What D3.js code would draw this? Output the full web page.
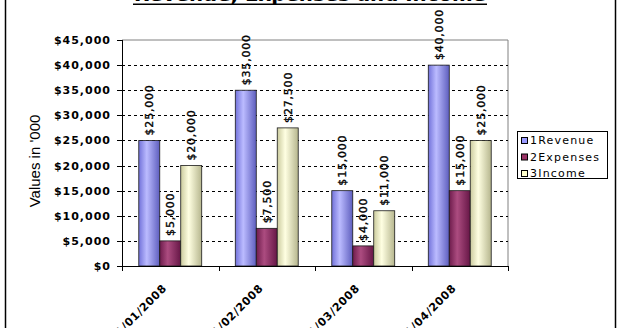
<!DOCTYPE html>
<html>
<head>
<meta charset="utf-8">
<script src="https://cdn.jsdelivr.net/npm/d3@7"></script>
<style>
  html, body { margin: 0; padding: 0; background: #fff; }
  svg { display: block; }
</style>
</head>
<body>
<svg id="chart" width="623" height="328"></svg>
<script>
// Monthly figures (values in '000)
const categories = ["01/01/2008", "01/02/2008", "01/03/2008", "01/04/2008"];
const seriesNames = ["1Revenue", "2Expenses", "3Income"];
const revenue = [25000, 35000, 15000, 40000];
const expenses = [5000, 7500, 4000, 15000];
const income = [20000, 27500, 11000, 25000];
const yTicks = [0, 5000, 10000, 15000, 20000, 25000, 30000, 35000, 40000, 45000];

const seriesValues = [revenue, expenses, income];
const seriesColors = ["#9999FF", "#993366", "#FFFFCC"];
// cylinder shading: edge, highlight, far edge
const seriesShades = [
  ["#7272DA", "#BBBBFF", "#5E5EBE"],
  ["#6E1C4C", "#AC4C80", "#661646"],
  ["#CBCB9E", "#FFFFE2", "#B6B68E"]
];

const svg = d3.select("#chart");
const W = 623, H = 328;
const plot = { left: 122, right: 508, top: 40, bottom: 266 };

// outer chart frame
svg.append("rect")
  .attr("x", 5.5).attr("y", -20)
  .attr("width", 610).attr("height", H + 40)
  .attr("fill", "#fff").attr("stroke", "#000").attr("stroke-width", 1.5);

// gradients
const defs = svg.append("defs");
seriesShades.forEach((s, i) => {
  const g = defs.append("linearGradient").attr("id", "grad" + i)
    .attr("x1", "0%").attr("x2", "100%").attr("y1", "0%").attr("y2", "0%");
  g.append("stop").attr("offset", "0%").attr("stop-color", s[0]);
  g.append("stop").attr("offset", "38%").attr("stop-color", s[1]);
  g.append("stop").attr("offset", "100%").attr("stop-color", s[2]);
});

// title
svg.append("text")
  .attr("x", 310).attr("y", 1)
  .attr("text-anchor", "middle")
  .attr("font-family", "DejaVu Sans, Verdana, sans-serif")
  .attr("font-weight", "bold")
  .attr("font-size", 17)
  .attr("textLength", 352)
  .attr("lengthAdjust", "spacingAndGlyphs")
  .text("Revenue, Expenses and Income");
svg.append("line")
  .attr("x1", 310 - 177).attr("x2", 310 + 177)
  .attr("y1", 4.2).attr("y2", 4.2)
  .attr("stroke", "#000").attr("stroke-width", 1.6);

// scales
const y = d3.scaleLinear().domain([0, 45000]).range([plot.bottom, plot.top]);
const x0 = d3.scaleBand().domain(categories).range([plot.left, plot.right]).padding(0);
const x1 = d3.scaleBand().domain(seriesNames).range([0, x0.bandwidth()])
  .paddingInner(0).paddingOuter(0.8);

// plot area border (top/right)
svg.append("path")
  .attr("d", `M${plot.left},${plot.top}H${plot.right}V${plot.bottom}`)
  .attr("fill", "none").attr("stroke", "#808080").attr("stroke-width", 1);

// gridlines
svg.append("g").selectAll("line")
  .data(yTicks.filter(v => v > 0 && v < 45000))
  .join("line")
  .attr("x1", plot.left).attr("x2", plot.right)
  .attr("y1", d => Math.round(y(d)) + 0.5).attr("y2", d => Math.round(y(d)) + 0.5)
  .attr("stroke", "#000").attr("stroke-width", 1)
  .attr("stroke-dasharray", "3,3");

// bars
const groups = svg.append("g").selectAll("g")
  .data(categories)
  .join("g")
  .attr("transform", d => `translate(${x0(d)},0)`);

groups.selectAll("rect")
  .data((c, ci) => seriesNames.map((s, si) => ({ s, si, v: seriesValues[si][ci] })))
  .join("rect")
  .attr("x", d => x1(d.s))
  .attr("y", d => y(d.v))
  .attr("width", x1.bandwidth())
  .attr("height", d => y(0) - y(d.v))
  .attr("fill", d => `url(#grad${d.si})`)
  .attr("stroke", "#1a1a1a").attr("stroke-width", 0.8);

// data labels (rotated)
const fmt = d3.format("$,");
groups.selectAll("text.val")
  .data((c, ci) => seriesNames.map((s, si) => ({ s, si, v: seriesValues[si][ci] })))
  .join("text")
  .attr("class", "val")
  .attr("transform", d => `translate(${x1(d.s) + x1.bandwidth() / 2 + 4},${y(d.v) - 5}) rotate(-90)`)
  .attr("font-family", "DejaVu Sans, Verdana, sans-serif")
  .attr("font-size", 11)
  .attr("letter-spacing", 0.8)
  .attr("fill", "#000")
  .attr("stroke", "#000").attr("stroke-width", 0.35)
  .text(d => fmt(d.v));

// y axis
const yAxis = svg.append("g").attr("transform", `translate(${plot.left},0)`);
yAxis.append("line")
  .attr("x1", 0.5).attr("x2", 0.5).attr("y1", plot.top).attr("y2", plot.bottom)
  .attr("stroke", "#000");
yAxis.selectAll("line.tick")
  .data(yTicks).join("line").attr("class", "tick")
  .attr("x1", -5).attr("x2", 0)
  .attr("y1", d => Math.round(y(d)) + 0.5).attr("y2", d => Math.round(y(d)) + 0.5)
  .attr("stroke", "#000");
yAxis.selectAll("text")
  .data(yTicks).join("text")
  .attr("x", -11).attr("y", d => y(d))
  .attr("dy", "0.36em")
  .attr("text-anchor", "end")
  .attr("font-family", "DejaVu Sans, Verdana, sans-serif")
  .attr("font-weight", "bold")
  .attr("font-size", 11)
  .attr("letter-spacing", 1)
  .text(d => fmt(d));

// x axis
const xAxis = svg.append("g");
xAxis.append("line")
  .attr("x1", plot.left).attr("x2", plot.right)
  .attr("y1", plot.bottom + 0.5).attr("y2", plot.bottom + 0.5)
  .attr("stroke", "#000");
xAxis.selectAll("line.tick")
  .data(categories.concat(["end"])).join("line").attr("class", "tick")
  .attr("x1", d => Math.round(d === "end" ? plot.right : x0(d)) + 0.5)
  .attr("x2", d => Math.round(d === "end" ? plot.right : x0(d)) + 0.5)
  .attr("y1", plot.bottom).attr("y2", plot.bottom + 5)
  .attr("stroke", "#000");
xAxis.selectAll("text")
  .data(categories).join("text")
  .attr("transform", d => `translate(${x0(d) + x0.bandwidth() / 2 - 3},289) rotate(-45)`)
  .attr("text-anchor", "end")
  .attr("font-family", "DejaVu Sans, Verdana, sans-serif")
  .attr("font-weight", "bold")
  .attr("font-size", 11)
  .attr("letter-spacing", 0.6)
  .text(d => d);

// y axis title
svg.append("text")
  .attr("transform", "translate(40,161) rotate(-90)")
  .attr("text-anchor", "middle")
  .attr("font-family", "Liberation Sans, Arial, sans-serif")
  .attr("font-size", 15)
  .text("Values in '000");

// legend
const legend = svg.append("g").attr("transform", "translate(517,131)");
legend.append("rect")
  .attr("x", 0.5).attr("y", 0.5).attr("width", 90).attr("height", 47)
  .attr("fill", "#fff").attr("stroke", "#000");
const li = legend.selectAll("g.item")
  .data(seriesNames).join("g").attr("class", "item")
  .attr("transform", (d, i) => `translate(4,${6 + i * 16.5})`);
li.append("rect")
  .attr("x", 0.5).attr("y", 0.5).attr("width", 6).attr("height", 6)
  .attr("fill", (d, i) => seriesColors[i]).attr("stroke", "#000");
li.append("text")
  .attr("x", 9).attr("y", 3.5).attr("dy", "0.36em")
  .attr("font-family", "DejaVu Sans, Verdana, sans-serif")
  .attr("font-size", 11)
  .attr("letter-spacing", 1.2)
  .text(d => d);
</script>
</body>
</html>
